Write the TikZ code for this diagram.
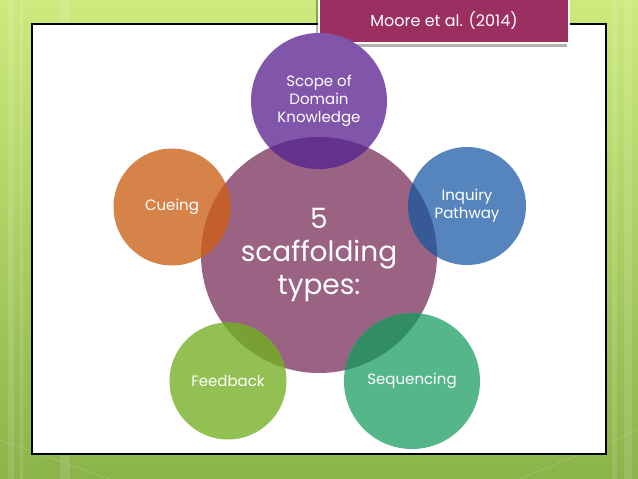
\documentclass[tikz,border=0pt]{standalone}
\usepackage{fontspec}
\setmainfont{Poppins}
\usetikzlibrary{positioning}
\definecolor{bgtop}{HTML}{CDEA7C}
\definecolor{bgbottom}{HTML}{8AB44A}
\definecolor{labelred}{HTML}{9C2F62}
\definecolor{hubmauve}{HTML}{9A6283}
\definecolor{scopepurple}{HTML}{8055AA}
\definecolor{scopedeep}{HTML}{64328A}
\definecolor{inquiryblue}{HTML}{5585BC}
\definecolor{inquirydeep}{HTML}{375A96}
\definecolor{seqgreen}{HTML}{55B68A}
\definecolor{seqdeep}{HTML}{328C64}
\definecolor{feedgreen}{HTML}{92C052}
\definecolor{feeddeep}{HTML}{78A032}
\definecolor{cueorange}{HTML}{D6834A}
\definecolor{cuedeep}{HTML}{C35F2D}
\tikzset{
  satellite/.style 2 args={circle,inner sep=0pt,fill=#1,
    path picture={\fill[#2] (hub.center) circle[radius=118];},
    text=white,align=center,font=\fontsize{15}{18}\selectfont},
  hubcircle/.style={circle,inner sep=0pt,fill=hubmauve,minimum size=236pt,
    text=white,align=center,font=\fontsize{28}{33}\selectfont},
  labelbox/.style={rectangle,fill=labelred,draw=white!85!bgtop,line width=1.5pt,
    text=white,minimum width=250pt,minimum height=44pt,font=\fontsize{16}{18}\selectfont}
}
\begin{document}
\begin{tikzpicture}[x=1pt,y=-1pt]
    \useasboundingbox (0,0) rectangle (638,479);
    % background and panel
    \shade[top color=bgtop,bottom color=bgbottom] (0,0) rectangle (638,479);
    \foreach \x/\w in {8/6,20/3,60/10,612/5,624/8}
        \fill[white,opacity=0.12] (\x,0) rectangle ++(\w,479);
    \draw[white,opacity=0.25] (0,440) -- (110,479) (520,479) -- (638,430) (0,60) -- (30,0);
    \draw[line width=1.2pt,fill=white] (32,24) rectangle (606,454);
    % source box
    \fill[black,opacity=0.3] (316,0) rectangle (567,47);
    \node[labelbox] (source) at (444,21) {Moore et al. (2014)};
    % hub
    \node[hubcircle] (hub) at (319,255) {5\\scaffolding\\types:};
    % five types
    \node[satellite={scopepurple}{scopedeep},minimum size=136pt] (scope) at (319,101)
        {Scope of\\Domain\\Knowledge};
    \node[satellite={inquiryblue}{inquirydeep},minimum size=118pt] (inquiry) at (467,206)
        {Inquiry\\Pathway};
    \node[satellite={seqgreen}{seqdeep},minimum size=136pt] (sequencing) at (412,381)
        {Sequencing};
    \node[satellite={feedgreen}{feeddeep},minimum size=117pt] (feedback) at (228,381)
        {Feedback};
    \node[satellite={cueorange}{cuedeep},minimum size=117pt] (cueing) at (172,207)
        {Cueing};
\end{tikzpicture}
\end{document}
